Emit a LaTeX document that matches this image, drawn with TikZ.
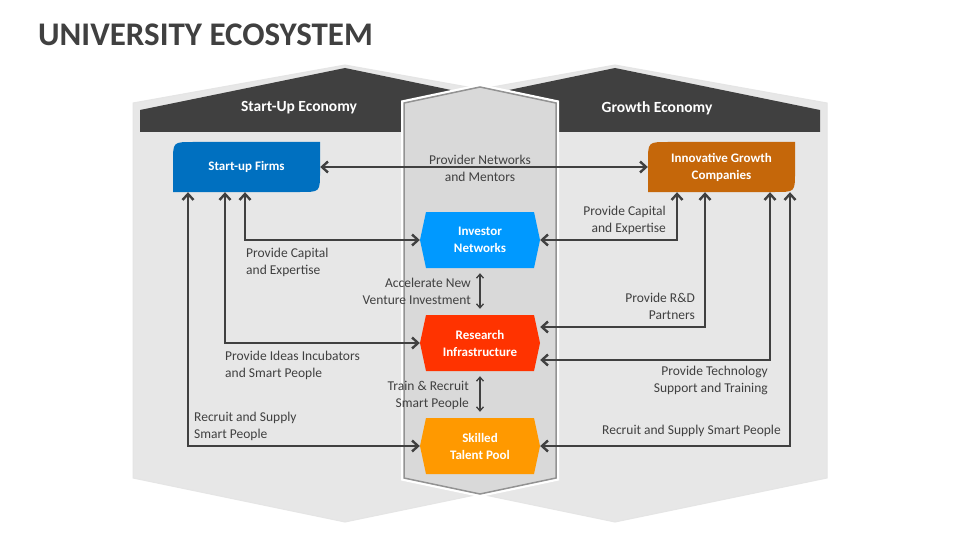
\documentclass[tikz,border=0pt]{standalone}
\usepackage{fontspec}
\setmainfont{Carlito}
\usetikzlibrary{arrows.meta}
\definecolor{dk}{HTML}{404040}
\definecolor{bgA}{HTML}{E7E7E7}
\definecolor{col}{HTML}{D9D9D9}
\definecolor{cBlue}{HTML}{0070C0}
\definecolor{cBrown}{HTML}{C5670A}
\definecolor{cSky}{HTML}{0099FF}
\definecolor{cRed}{HTML}{FF3300}
\definecolor{cOrange}{HTML}{FF9900}
\begin{document}
\begin{tikzpicture}[x=1pt,y=-1pt,
  box/.style={minimum width=118pt,minimum height=54pt,inner sep=0pt,text=white,font=\bfseries\fontsize{13}{17}\selectfont,align=center},
  lbl/.style={text=dk,font=\fontsize{13.5}{17}\selectfont,inner sep=0pt},
  darr/.style={draw=dk,line width=2.4pt,{Straight Barb[length=6pt,width=11pt]}-{Straight Barb[length=6pt,width=11pt]}},
  tarr/.style={draw=dk,line width=1.3pt,{Straight Barb[length=4pt,width=7pt]}-{Straight Barb[length=4pt,width=7pt]}}]
\useasboundingbox (0,0) rectangle (960,540);
\fill[white] (0,0) rectangle (960,540);
\node[anchor=west,text=dk,font=\bfseries\fontsize{33}{38}\selectfont,inner sep=0pt] (title) at (38,35) {UNIVERSITY ECOSYSTEM};
% big shapes
\filldraw[fill=bgA,draw=white!80!gray,line width=1pt] (133,103) -- (345,65) -- (557,103) -- (557,478) -- (345,522) -- (133,478) -- cycle;
\filldraw[fill=bgA,draw=white!80!gray,line width=1pt] (403,103) -- (615,65) -- (827,103) -- (827,478) -- (615,522) -- (403,478) -- cycle;
% dark headers
\fill[dk] (140,132) -- (140,110) -- (345,68) -- (480,96) -- (480,132) -- cycle;
\fill[dk] (820,132) -- (820,110) -- (615,68) -- (480,96) -- (480,132) -- cycle;
% central column
\filldraw[fill=col,draw=white,line width=6pt] (404,103) -- (480,87) -- (556,103) -- (556,478) -- (480,494) -- (404,478) -- cycle;
\filldraw[fill=col,draw=gray!85,line width=1.5pt] (404,103) -- (480,87) -- (556,103) -- (556,478) -- (480,494) -- (404,478) -- cycle;
\node[text=white,font=\bfseries\fontsize{15.5}{18}\selectfont] (hl) at (299,108) {Start-Up Economy};
\node[text=white,font=\bfseries\fontsize{15.5}{18}\selectfont] (hr) at (657,108) {Growth Economy};
% corner boxes
\fill[cBlue] (173,192) -- (173,162) .. controls (173,142) .. (193,142) -- (320,142) -- (320,172) .. controls (320,192) .. (300,192) -- cycle;
\fill[cBrown] (648,192) -- (648,162) .. controls (648,142) .. (668,142) -- (795,142) -- (795,172) .. controls (795,192) .. (775,192) -- cycle;
\node[box,minimum width=147pt,minimum height=50pt] (sf) at (246.5,167) {Start-up Firms};
\node[box,minimum width=147pt,minimum height=50pt] (ig) at (721.5,167) {Innovative Growth\\Companies};
% hex boxes
\fill[cSky] (426,212) -- (534,212) -- (540,240) -- (534,268) -- (426,268) -- (420,240) -- cycle;
\fill[cRed] (426,315) -- (534,315) -- (540,343) -- (534,371) -- (426,371) -- (420,343) -- cycle;
\fill[cOrange] (426,418) -- (534,418) -- (540,446) -- (534,474) -- (426,474) -- (420,446) -- cycle;
\node[box,minimum width=120pt,minimum height=56pt] (in) at (480,240) {Investor\\Networks};
\node[box,minimum width=120pt,minimum height=56pt] (ri) at (480,343) {Research\\Infrastructure};
\node[box,minimum width=120pt,minimum height=56pt] (tp) at (480,446) {Skilled\\Talent Pool};
% arrows
\draw[darr] (sf.east) -- (ig.west);
\draw[darr] (sf.south -| 245,0) |- (in.west);
\draw[darr] (sf.south -| 225,0) |- (ri.west);
\draw[darr] (sf.south -| 188,0) |- (tp.west);
\draw[darr] (ig.south -| 677,0) |- (in.east);
\draw[darr] (ig.south -| 705,0) |- (ri.east |- 0,327);
\draw[darr] (ig.south -| 770,0) |- (ri.east |- 0,360);
\draw[darr] (ig.south -| 790,0) |- (tp.east);
\draw[tarr] ([yshift=-5pt]in.south) -- ([yshift=6pt]ri.north);
\draw[tarr] ([yshift=-5pt]ri.south) -- ([yshift=6pt]tp.north);
% labels
\node[lbl,align=center] (l1) at (480,168) {Provider Networks\\and Mentors};
\node[lbl,align=left,anchor=west] (l2) at (246,262) {Provide Capital\\and Expertise};
\node[lbl,align=left,anchor=west] (l3) at (225,365) {Provide Ideas Incubators\\and Smart People};
\node[lbl,align=left,anchor=west] (l4) at (194,426) {Recruit and Supply\\Smart People};
\node[lbl,align=right,anchor=east] (l5) at (666,220) {Provide Capital\\and Expertise};
\node[lbl,align=right,anchor=east] (l6) at (695,306) {Provide R\&D\\Partners};
\node[lbl,align=right,anchor=east] (l7) at (768,380) {Provide Technology\\Support and Training};
\node[lbl,anchor=east] (l8) at (781,431) {Recruit and Supply Smart People};
\node[lbl,align=right,anchor=east] (l9) at (471,291) {Accelerate New\\Venture Investment};
\node[lbl,align=right,anchor=east] (l10) at (469,395) {Train \& Recruit\\Smart People};
\end{tikzpicture}
\end{document}
